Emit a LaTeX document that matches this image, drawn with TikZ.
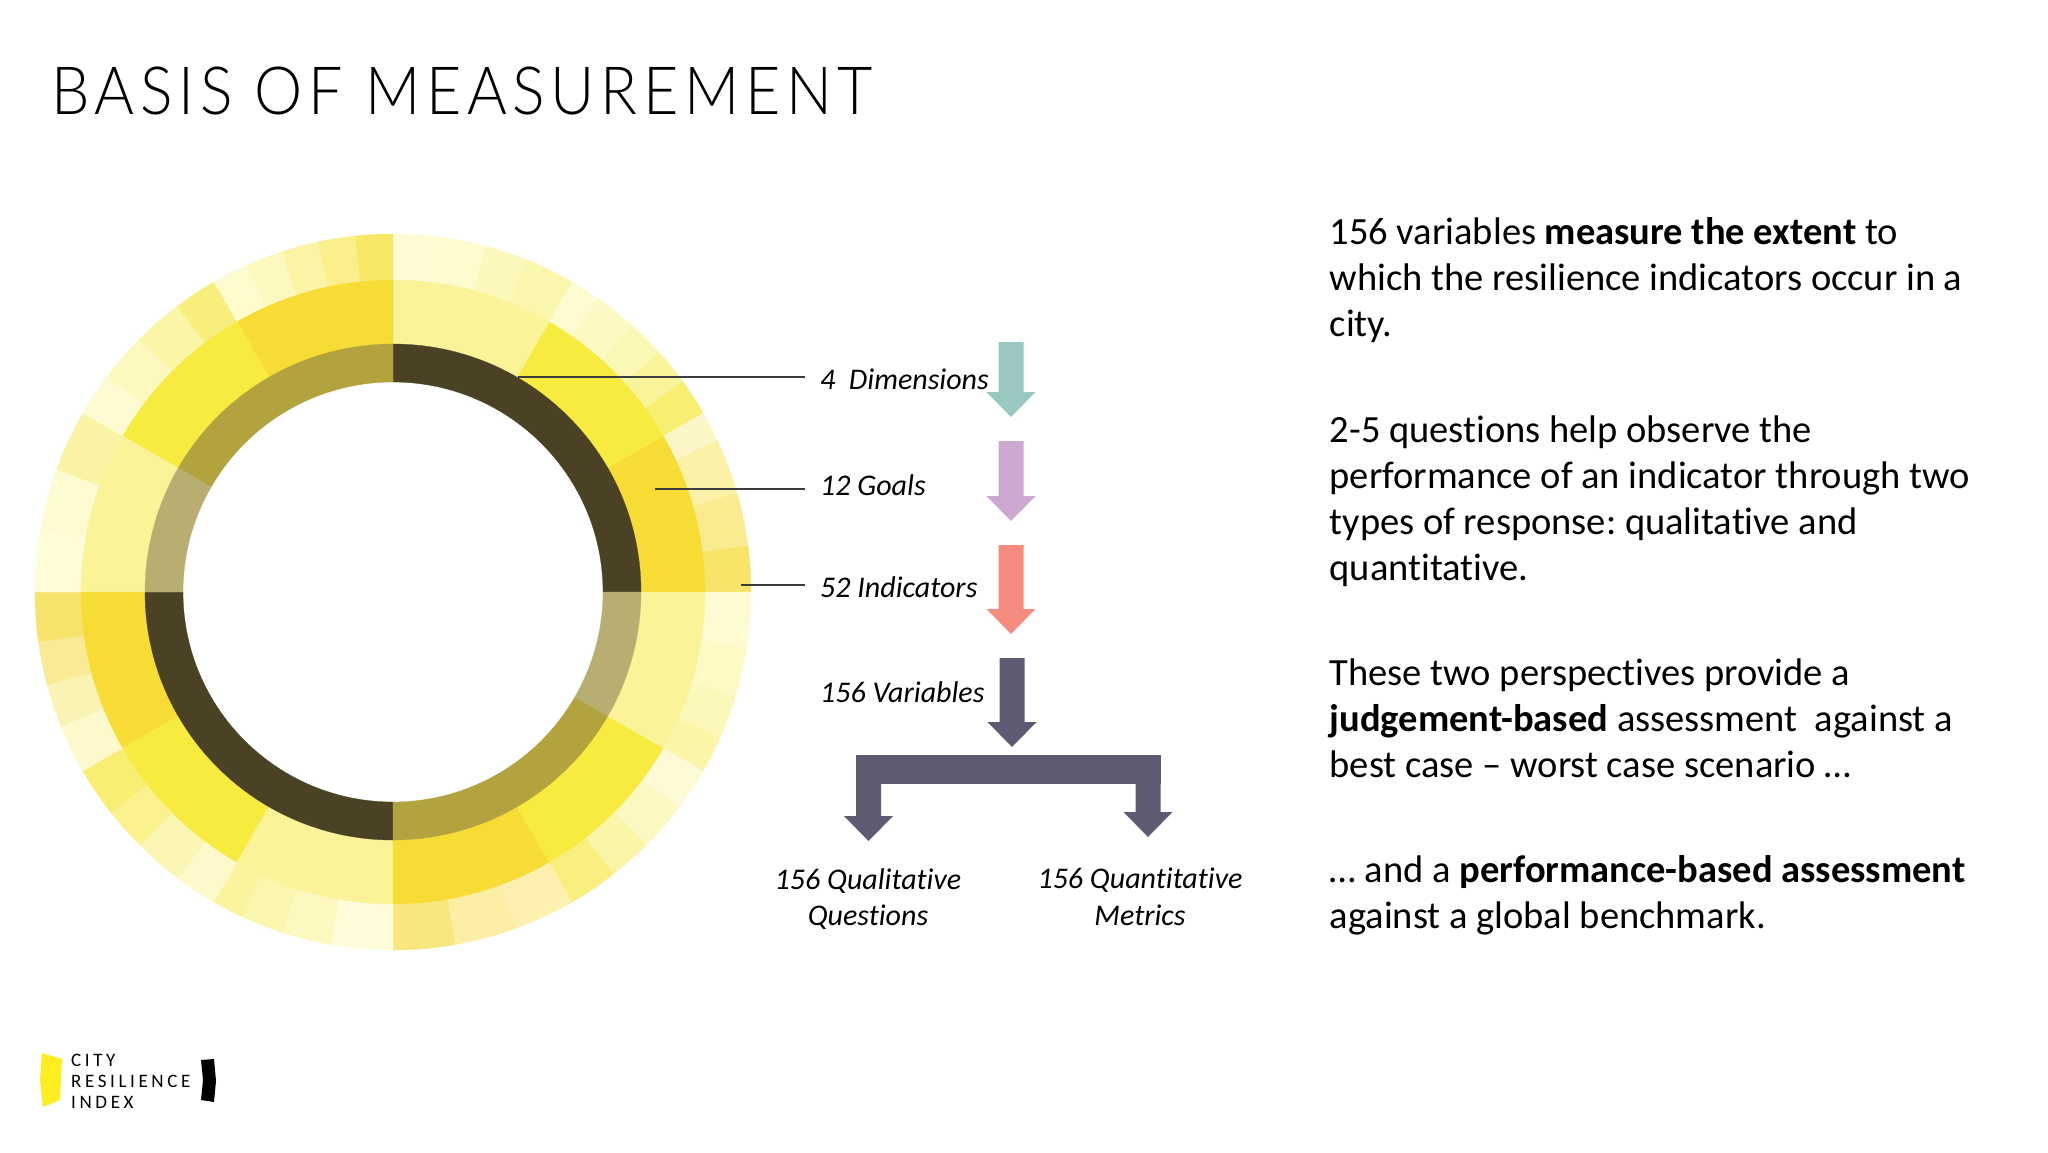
\documentclass[tikz,border=0pt]{standalone}
\usepackage{fontspec}
\setmainfont[Ligatures=CommonOff]{Carlito}
\newfontfamily\titleFont[LetterSpace=8.5,FakeStretch=.915,UprightFont=* Light]{Lato}
\newfontfamily\logoFont[LetterSpace=19]{Carlito}
\usetikzlibrary{positioning}
\tikzstyle{slide} = [x = 1pt, y = -1pt]
\definecolor{leaderColor}{RGB}{60,60,60}
\definecolor{logoYellow}{HTML}{FDEE21}
\definecolor{tealArrow}{HTML}{98C8C1}
\definecolor{purpleArrow}{HTML}{CDA8D0}
\definecolor{salmonArrow}{HTML}{F68C80}
\definecolor{slateArrow}{HTML}{5F5A72}
\tikzstyle{leaderLine} = [color=leaderColor, line width=1.2pt]
\tikzstyle{titleText} = [anchor=base west, inner sep=0, font=\titleFont\fontsize{66.5}{80}\selectfont]
\tikzstyle{bodyText} = [anchor=north west, inner sep=0, align=left, font=\fontsize{38.5}{46}\selectfont]
\tikzstyle{levelText} = [anchor=base west, inner sep=0, font=\itshape\fontsize{30}{36.8}\selectfont]
\tikzstyle{endText} = [anchor=north, inner sep=0, align=center, font=\itshape\fontsize{30}{36.8}\selectfont]
\tikzstyle{logoText} = [anchor=base west, inner sep=0, font=\logoFont\fontsize{19}{21}\selectfont]
\newcommand{\ringSegment}[5]{
  \definecolor{segmentColor}{HTML}{#5}
  \filldraw [color=segmentColor, line width=.3pt] (#1:#3) -- (#1:#4) arc [start angle=#1, end angle=#2, radius=#4] -- (#2:#3) arc [start angle=#2, end angle=#1, radius=#3] -- cycle;
}
\newcommand{\blockArrow}[5]{\fill [#5] (#1 - 12.5, #2) -- (#1 + 12.5, #2) -- (#1 + 12.5, #3) -- (#1 + 24.5, #3) -- (#1, #4) -- (#1 - 24.5, #3) -- (#1 - 12.5, #3) -- cycle;}
\frenchspacing

\begin{document}
\begin{tikzpicture}[slide]
  \useasboundingbox (0,0) rectangle (2048,1152);

  \node [titleText] (title) at (51,114) {BASIS OF MEASUREMENT};

  \begin{scope}[shift={(393,592)}, y = 1pt]
    % outer ring, one entry per indicator
    \foreach \from/\to/\shade in {
      90/83/FFFBD5, 83/75/FEFBCF, 75/68/FCF8BC, 68/60/FBF6AD,
      60/55/FEFBD3, 55/48/FCF9C5, 48/42/FBF7B4, 42/36/F9F49A, 36/30/F8EE72,
      30/25/FCF6C6, 25/16/FBF2A8, 16/7.4/F9EB8F, 7.4/0/F7E468,
      0/-9/FEFBD2, -9/-17/FDFAC6, -17/-24/FCF8BA, -24/-30/FBF5A8,
      -30/-37/FEFAD5, -37/-45/FCF8C2, -45/-52/FAF5A7, -52/-60/F8EF7F,
      -60/-70/FDF0B0, -70/-80/FCEEA5, -80/-90/F9E67E,
      -90/-100/FFFCD9, -100/-108/FCF8BF, -108/-115/FBF6AE, -115/-120/FAF49F,
      -120/-127/FDF9CB, -127/-135/FCF6B5, -135/-142/FAF28E, -142/-150/F8EE72,
      -150/-158/FEF9CD, -158/-165/FBF3B3, -165/-172/F9EB95, -172/-180/F7E36C,
      180/170/FFFCD8, 170/160/FEFAD2, 160/150/FAF3A5,
      150/143/FEFBD3, 143/135/FCF8BE, 135/127/FBF5A6, 127/120/F8EE7C,
      120/114/FEFBCF, 114/108/FCF8BE, 108/102/FBF4A5, 102/96/FAEF8A, 96/90/F8E868} {
      \ringSegment{\from}{\to}{312}{358}{\shade}
    }
    % middle ring, one entry per goal
    \foreach \quarter in {0,90,180,270} {
      \pgfmathsetmacro{\angleA}{\quarter}
      \pgfmathsetmacro{\angleB}{\quarter + 30}
      \pgfmathsetmacro{\angleC}{\quarter + 60}
      \pgfmathsetmacro{\angleD}{\quarter + 90}
      \ringSegment{\angleA}{\angleB}{248}{312}{F6DC34}
      \ringSegment{\angleB}{\angleC}{248}{312}{F7EB40}
      \ringSegment{\angleC}{\angleD}{248}{312}{FAF398}
    }
    % inner ring, dimensions
    \ringSegment{0}{90}{210}{248}{4B4225}
    \ringSegment{180}{270}{210}{248}{4B4225}
    \ringSegment{90}{150}{210}{248}{B2A33E}
    \ringSegment{150}{180}{210}{248}{B9AE72}
    \ringSegment{270}{330}{210}{248}{B2A33E}
    \ringSegment{330}{360}{210}{248}{B9AE72}
  \end{scope}

  \coordinate (dimensionsStart) at (518,377);
  \coordinate (dimensionsEnd) at (805,377);
  \coordinate (goalsStart) at (655,489);
  \coordinate (goalsEnd) at (805,489);
  \coordinate (indicatorsStart) at (741,585);
  \coordinate (indicatorsEnd) at (805,585);
  \draw [leaderLine] (dimensionsStart) -- (dimensionsEnd);
  \draw [leaderLine] (goalsStart) -- (goalsEnd);
  \draw [leaderLine] (indicatorsStart) -- (indicatorsEnd);

  \node [levelText] (dimensions) at (820,389) {4\ \ Dimensions};
  \node [levelText] (goals) at (820,495) {12 Goals};
  \node [levelText] (indicators) at (820,597) {52 Indicators};
  \node [levelText] (variables) at (820,702) {156 Variables};

  \blockArrow{1011}{342}{392}{417}{tealArrow}
  \blockArrow{1011}{441}{496}{521}{purpleArrow}
  \blockArrow{1011}{545}{609}{634}{salmonArrow}
  \blockArrow{1012}{658}{722}{747}{slateArrow}

  \fill [slateArrow] (856,755) rectangle (1161,784);
  \blockArrow{868.5}{755}{816}{841}{slateArrow}
  \blockArrow{1148}{755}{812}{837}{slateArrow}

  \node [endText] (qualitative) at (868,868) {156 Qualitative\\Questions};
  \node [endText] (quantitative) at (1140,868) {156 Quantitative\\Metrics};

  \node [bodyText] (extentText) at (1329.5,217) {156 variables \textbf{measure the extent} to\\which the resilience indicators occur in a\\city.};
  \node [bodyText] (questionsText) at (1329.5,416) {2-5 questions help observe the\\performance of an indicator through two\\types of response: qualitative and\\quantitative.};
  \node [bodyText] (judgementText) at (1329.5,659) {These two perspectives provide a\\\textbf{judgement-based} assessment\ \ against a\\best case -- worst case scenario \dots};
  \node [bodyText] (performanceText) at (1329.5,855) {\dots\ and a \textbf{performance-based assessment}\\against a global benchmark.};

  % logo
  \fill [logoYellow] (42,1053) -- (62,1059) -- (60,1100) -- (43,1107) -- (40,1080) -- cycle;
  \fill [black] (201,1060) -- (214,1059) -- (216,1081) -- (214,1102) -- (201,1100) -- (203,1080) -- cycle;
  \node [logoText] (logoCity) at (71,1066) {CITY};
  \node [logoText] (logoResilience) at (71,1087) {RESILIENCE};
  \node [logoText] (logoIndex) at (71,1108) {INDEX};
\end{tikzpicture}
\end{document}
